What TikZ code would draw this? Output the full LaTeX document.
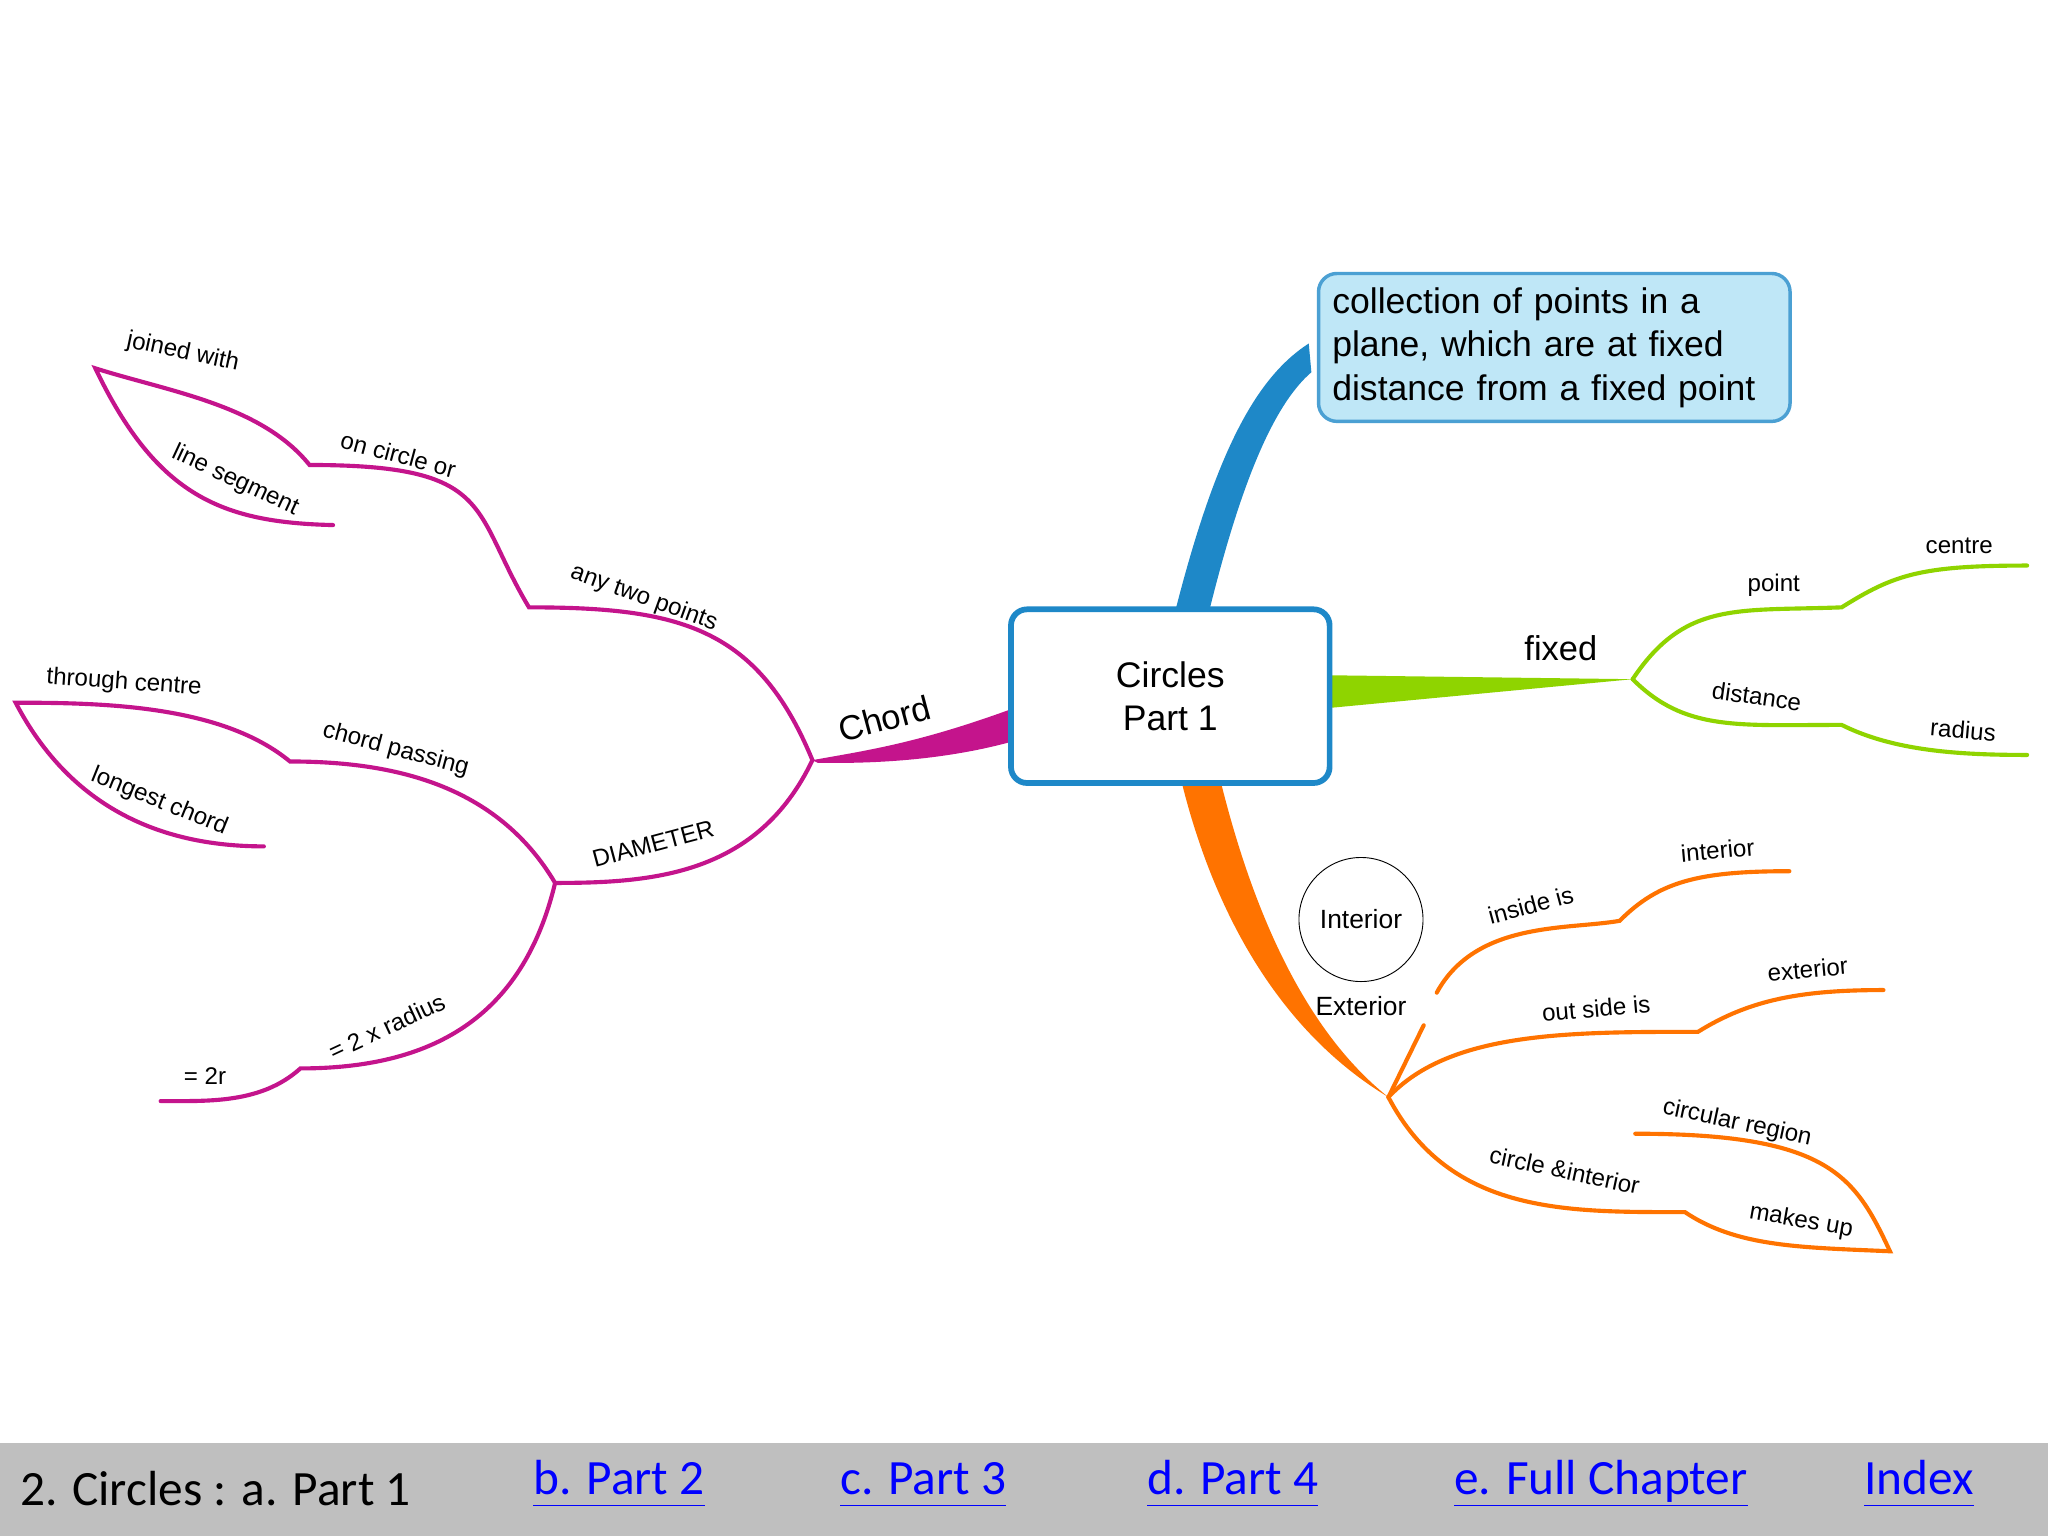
\documentclass[tikz,border=0pt]{standalone}
\usepackage{fontspec}
\setmainfont{Liberation Sans}
\newfontfamily\calfont{Carlito}
\definecolor{mag}{HTML}{C4148C}
\definecolor{org}{HTML}{FF7300}
\definecolor{grn}{HTML}{8FD400}
\definecolor{blu}{HTML}{1E88C8}
\definecolor{bxf}{HTML}{BFE7F7}
\definecolor{bar}{HTML}{BFBFBF}
\definecolor{lnk}{HTML}{0000FF}
\newcommand{\ul}[1]{\underline{\smash{#1}\vphantom{p}}}
\begin{document}
\begin{tikzpicture}[x=0.02cm,y=-0.02cm,
  br/.style={line width=1.8pt,line cap=round},
  lab/.style={font=\fontsize{10.5}{12}\selectfont,inner sep=1pt},
  big/.style={font=\fontsize{15}{17}\selectfont,inner sep=1pt},
  link/.style={font=\calfont\fontsize{21.5}{25}\selectfont,text=lnk,anchor=west,inner sep=0pt}]
\useasboundingbox (0,0) rectangle (1568,1176);
\fill[white] (0,0) rectangle (1568,1176);
% bottom bar
\fill[bar] (0,1105) rectangle (1568,1176);
\node[font=\calfont\fontsize{21.5}{25}\selectfont,anchor=west,inner sep=0pt] (t0) at (15,1140) {2. Circles : a. Part 1};
\node[link] (t1) at (408,1140) {\ul{b. Part 2}};
\node[link] (t2) at (643,1140) {\ul{c. Part 3}};
\node[link] (t3) at (878,1140) {\ul{d. Part 4}};
\node[link] (t4) at (1113,1140) {\ul{e. Full Chapter}};
\node[link] (t5) at (1427,1140) {\ul{Index}};
% coordinates
\coordinate (cT1) at (900,467); \coordinate (cT2) at (926,467);
\coordinate (gA) at (1018,517); \coordinate (gB) at (1018,542); \coordinate (g0) at (1250,520);
\coordinate (g1) at (1410,465); \coordinate (g2) at (1552,433);
\coordinate (g3) at (1410,555); \coordinate (g4) at (1552,578);
\coordinate (oA) at (905,600); \coordinate (oB) at (935,600); \coordinate (o0) at (1063,840);
\coordinate (o2) at (1240,705); \coordinate (o3) at (1370,667);
\coordinate (o4) at (1300,790); \coordinate (o5) at (1442,758);
\coordinate (o6) at (1290,928); \coordinate (o7) at (1447,958); \coordinate (o8) at (1252,868);
\coordinate (mA) at (774,543); \coordinate (mB) at (774,568); \coordinate (m0) at (622,582);
\coordinate (m1) at (405,465); \coordinate (m2) at (237,356); \coordinate (m3) at (73,282); \coordinate (m4) at (255,402);
\coordinate (m5) at (425,676); \coordinate (m6) at (222,583); \coordinate (m7) at (12,538); \coordinate (m8) at (202,648);
\coordinate (m9) at (230,818); \coordinate (m10) at (123,843);
% blue wedge
\fill[blu] (cT1) .. controls (930,350) and (960,290) .. (1002,263) -- (1004,285) .. controls (975,310) and (950,370) .. (cT2) -- cycle;
% green
\fill[grn] (gA) -- (g0) -- (gB) -- cycle;
\draw[br,grn] (g0) .. controls (1290,460) and (1330,468) .. (g1) .. controls (1450,440) and (1470,433) .. (g2);
\draw[br,grn] (g0) .. controls (1290,560) and (1330,555) .. (g3) .. controls (1450,575) and (1500,578) .. (g4);
% orange
\fill[org] (oA) .. controls (930,700) and (980,790) .. (o0) .. controls (1000,790) and (960,700) .. (oB) -- cycle;
\draw[br,org] (o0) -- (1090,785);
\draw[br,org] (1100,760) .. controls (1130,705) and (1200,712) .. (o2) .. controls (1270,675) and (1300,667) .. (o3);
\draw[br,org] (o0) .. controls (1110,790) and (1200,790) .. (o4) .. controls (1340,765) and (1380,758) .. (o5);
\draw[br,org] (o0) .. controls (1110,930) and (1200,928) .. (o6) .. controls (1330,955) and (1380,955) .. (o7)
  .. controls (1420,900) and (1400,868) .. (o8);
% magenta
\fill[mag] (mA) .. controls (700,570) and (660,575) .. (m0) -- (626,584) .. controls (680,585) and (730,580) .. (mB) -- cycle;
\draw[br,mag] (m0) .. controls (580,480) and (520,465) .. (m1) .. controls (360,390) and (380,356) .. (m2)
  .. controls (200,310) and (130,300) .. (m3) .. controls (120,380) and (170,400) .. (m4);
\draw[br,mag] (m0) .. controls (580,670) and (500,676) .. (m5) .. controls (380,600) and (300,583) .. (m6)
  .. controls (170,540) and (80,538) .. (m7) .. controls (60,630) and (140,648) .. (m8);
\draw[br,mag] (m5) .. controls (400,780) and (330,818) .. (m9) .. controls (200,845) and (160,843) .. (m10);
% nodes
\node[draw=blu,line width=2.5pt,rounded corners=7pt,fill=white,minimum width=4.88cm,minimum height=2.66cm,
  align=center,font=\fontsize{15.5}{19}\selectfont] (c) at (896,533)
  {Circles\\Part 1};
\node[draw=blu!80,line width=1.5pt,rounded corners=8pt,fill=bxf,text width=6.8cm,align=left,
  inner sep=6pt,font=\fontsize{15.5}{19}\selectfont] (b) at (1190,266)
  {collection of points in a plane, which are at fixed distance from a fixed point};
\node[draw,circle,minimum size=1.9cm,font=\fontsize{11.5}{13}\selectfont] (int) at (1042,704) {Interior};
\node[font=\fontsize{11.5}{13}\selectfont] (ext) at (1042,770) {Exterior};
% labels
\node[big] (lf) at (1195,496) {fixed};
\node[lab] (l1) at (1358,448) {point};
\node[lab] (l2) at (1500,418) {centre};
\node[lab,rotate=-8] (l3) at (1345,533) {distance};
\node[lab,rotate=-5] (l4) at (1503,559) {radius};
\node[lab,rotate=15] (l5) at (1172,693) {inside is};
\node[lab,rotate=5] (l6) at (1315,651) {interior};
\node[lab,rotate=5] (l7) at (1222,772) {out side is};
\node[lab,rotate=5] (l8) at (1384,742) {exterior};
\node[lab,rotate=-12] (l9) at (1330,860) {circular region};
\node[lab,rotate=-12] (l10) at (1198,896) {circle \&interior};
\node[lab,rotate=-10] (l11) at (1379,935) {makes up};
\node[big,rotate=15] (lc) at (677,550) {Chord};
\node[lab,rotate=-20] (lm1) at (493,458) {any two points};
\node[lab,rotate=-15] (lm2) at (305,348) {on circle or};
\node[lab,rotate=-12] (lm3) at (140,270) {joined with};
\node[lab,rotate=-25] (lm4) at (180,368) {line segment};
\node[lab,rotate=15] (lm5) at (500,646) {DIAMETER};
\node[lab,rotate=-15] (lm6) at (303,574) {chord passing};
\node[lab,rotate=-4] (lm7) at (95,523) {through centre};
\node[lab,rotate=-22] (lm8) at (122,614) {longest chord};
\node[lab,rotate=25] (lm9) at (296,786) {= 2 x radius};
\node[lab] (lm10) at (157,824) {= 2r};
\end{tikzpicture}
\end{document}
